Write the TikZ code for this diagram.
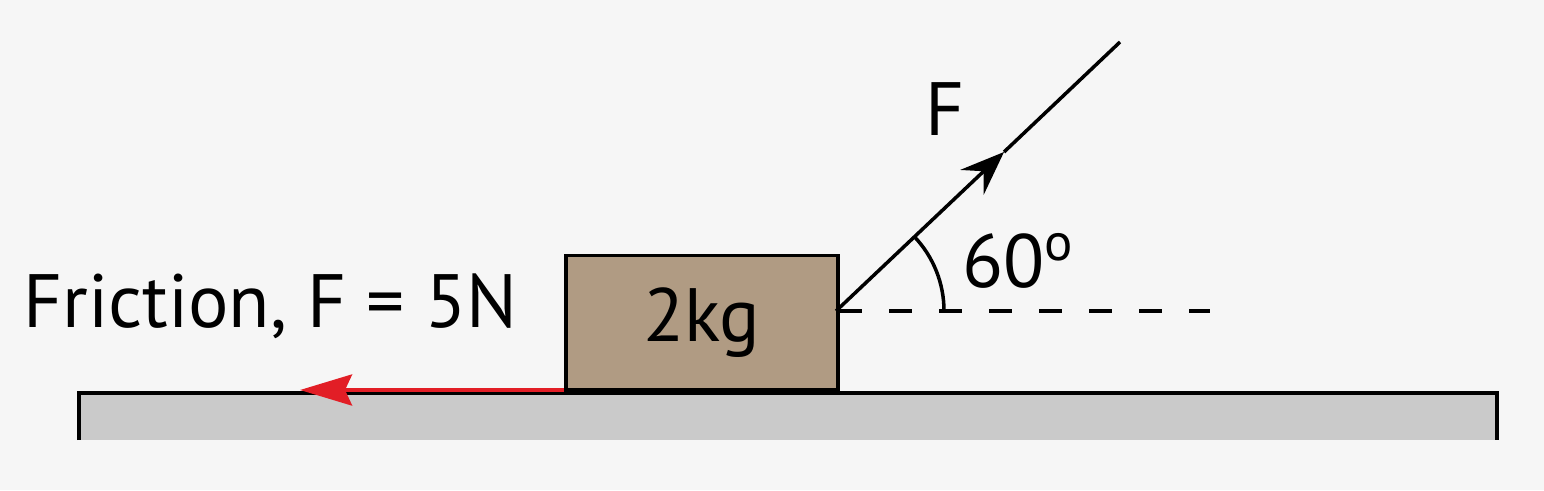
\documentclass[tikz,border=0pt]{standalone}
\usepackage{fontspec}
\setmainfont{PT Sans}
\usetikzlibrary{arrows.meta,positioning}
\definecolor{paper}{RGB}{246,246,246}
\definecolor{floorgray}{RGB}{202,202,202}
\definecolor{boxbrown}{RGB}{176,155,131}
\definecolor{pullred}{RGB}{226,30,38}
\tikzset{
  bigtext/.style={font=\fontsize{21.5}{25}\selectfont},
  crate/.style={draw, fill=boxbrown, line width=0.35mm, inner sep=0pt,
    minimum width=27.2mm, minimum height=13.4mm},
  forcetip/.style={-{Stealth[length=4.4mm, width=3.4mm, inset=1.6mm]}},
  frictip/.style={-{Stealth[length=5.2mm, width=3.1mm, inset=0.7mm]}}
}
\begin{document}
\begin{tikzpicture}[x=0.1mm, y=-0.1mm, line width=0.35mm, bigtext]
  \fill[paper] (0,0) rectangle (1544,490);
  \useasboundingbox (0,0) rectangle (1544,490);
  % floor
  \fill[floorgray] (79,393) rectangle (1497,440);
  \draw[line width=0.4mm] (79,440) -- (79,393) -- (1497,393) -- (1497,440);
  % block and labels
  \node[crate, anchor=south west] (block) at (564,391) {2kg};
  \node[anchor=base west] (friction) at (10,327) {Friction, F = 5N};
  \node[anchor=base west] (F) at (912,135) {F};
  \node[anchor=base west] (angle) at (949,287) {60\textsuperscript{o}};
  \coordinate (pivot) at (836,311);
  \coordinate (mid) at (1004,152);
  \coordinate (top) at (1120,42);
  \coordinate (dashend) at (1210,311);
  \coordinate (fricend) at (300,390);
  \begin{scope}
    \draw[forcetip] (pivot) -- (mid);
    \draw (mid) -- (top);
    \draw[dash pattern=on 2.3mm off 2.7mm] ([xshift=0.3mm]pivot) -- (dashend);
    \draw ([xshift=10.8mm]pivot) arc[start angle=0, end angle=43.4, radius=10.8mm];
    \draw[pullred, line width=0.4mm, frictip] ([yshift=0.1mm]block.south west) -- (fricend);
  \end{scope}
\end{tikzpicture}
\end{document}
